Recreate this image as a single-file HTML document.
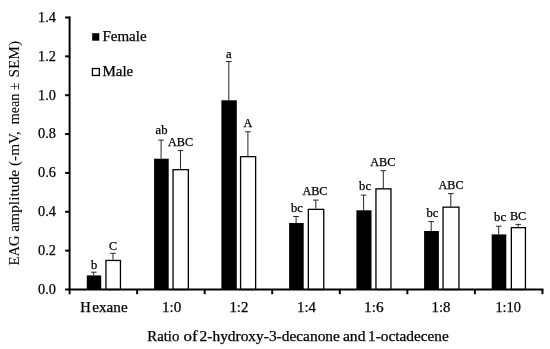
<!DOCTYPE html>
<html lang="en"><head><meta charset="utf-8"><title>EAG amplitude chart</title>
<style>html,body{margin:0;padding:0;background:#fff}body{width:550px;height:349px;overflow:hidden}text{stroke:#000;stroke-width:.25px}</style>
</head><body>
<svg width="550" height="349" viewBox="0 0 550 349" style="display:block;filter:blur(.3px)">
<rect width="550" height="349" fill="#fff"/>
<g font-family="'Liberation Serif', serif" fill="#000">
<path d="M93.7 275.4V272.2M90.9 272.2H96.5" stroke="#262626" stroke-width="1" fill="none"/>
<path d="M113.0 259.8V253.3M110.2 253.3H115.8" stroke="#262626" stroke-width="1" fill="none"/>
<rect x="86.8" y="275.4" width="14.4" height="14.1" fill="#000"/>
<rect x="105.95" y="260.45" width="14.50" height="29.05" fill="#fff" stroke="#000" stroke-width="1.3"/>
<text x="90.9" y="269.2" font-size="12.2" textLength="6.3" lengthAdjust="spacingAndGlyphs">b</text>
<text x="108.9" y="249.5" font-size="12.2" textLength="8.1" lengthAdjust="spacingAndGlyphs">C</text>
<path d="M161.1 158.7V140.1M158.3 140.1H163.9" stroke="#262626" stroke-width="1" fill="none"/>
<path d="M180.5 169.0V150.6M177.7 150.6H183.3" stroke="#262626" stroke-width="1" fill="none"/>
<rect x="154.1" y="158.7" width="14.6" height="130.8" fill="#000"/>
<rect x="173.05" y="169.65" width="15.30" height="119.85" fill="#fff" stroke="#000" stroke-width="1.3"/>
<text x="155.6" y="134.4" font-size="12.2" textLength="11.9" lengthAdjust="spacingAndGlyphs">ab</text>
<text x="168.0" y="145.8" font-size="12.2" textLength="25.1" lengthAdjust="spacingAndGlyphs">ABC</text>
<path d="M228.8 100.3V61.5M226.0 61.5H231.6" stroke="#262626" stroke-width="1" fill="none"/>
<path d="M247.9 156.0V131.8M245.1 131.8H250.7" stroke="#262626" stroke-width="1" fill="none"/>
<rect x="221.4" y="100.3" width="15.4" height="189.2" fill="#000"/>
<rect x="240.55" y="156.65" width="15.10" height="132.85" fill="#fff" stroke="#000" stroke-width="1.3"/>
<text x="226.0" y="57.5" font-size="12.2" textLength="5.6" lengthAdjust="spacingAndGlyphs">a</text>
<text x="243.6" y="126.5" font-size="12.2" textLength="8.8" lengthAdjust="spacingAndGlyphs">A</text>
<path d="M296.1 223.0V216.5M293.3 216.5H298.9" stroke="#262626" stroke-width="1" fill="none"/>
<path d="M315.8 208.7V200.1M313.0 200.1H318.6" stroke="#262626" stroke-width="1" fill="none"/>
<rect x="289.1" y="223.0" width="14.6" height="66.5" fill="#000"/>
<rect x="308.35" y="209.35" width="15.40" height="80.15" fill="#fff" stroke="#000" stroke-width="1.3"/>
<text x="291.0" y="211.6" font-size="12.2" textLength="11.9" lengthAdjust="spacingAndGlyphs">bc</text>
<text x="302.4" y="195.0" font-size="12.2" textLength="25.1" lengthAdjust="spacingAndGlyphs">ABC</text>
<path d="M363.6 210.3V195.1M360.8 195.1H366.4" stroke="#262626" stroke-width="1" fill="none"/>
<path d="M383.3 188.2V170.7M380.5 170.7H386.1" stroke="#262626" stroke-width="1" fill="none"/>
<rect x="356.4" y="210.3" width="15.1" height="79.2" fill="#000"/>
<rect x="375.95" y="188.85" width="15.00" height="100.65" fill="#fff" stroke="#000" stroke-width="1.3"/>
<text x="359.1" y="190.3" font-size="12.2" textLength="11.9" lengthAdjust="spacingAndGlyphs">bc</text>
<text x="370.2" y="166.4" font-size="12.2" textLength="25.1" lengthAdjust="spacingAndGlyphs">ABC</text>
<path d="M431.2 231.0V221.6M428.4 221.6H434.0" stroke="#262626" stroke-width="1" fill="none"/>
<path d="M450.8 206.5V193.6M448.0 193.6H453.6" stroke="#262626" stroke-width="1" fill="none"/>
<rect x="424.1" y="231.0" width="14.8" height="58.5" fill="#000"/>
<rect x="443.05" y="207.15" width="15.90" height="82.35" fill="#fff" stroke="#000" stroke-width="1.3"/>
<text x="426.5" y="217.2" font-size="12.2" textLength="11.9" lengthAdjust="spacingAndGlyphs">bc</text>
<text x="438.5" y="189.4" font-size="12.2" textLength="25.1" lengthAdjust="spacingAndGlyphs">ABC</text>
<path d="M498.7 234.4V226.2M495.9 226.2H501.5" stroke="#262626" stroke-width="1" fill="none"/>
<path d="M518.2 227.0V224.4M515.4 224.4H521.0" stroke="#262626" stroke-width="1" fill="none"/>
<rect x="491.7" y="234.4" width="14.6" height="55.1" fill="#000"/>
<rect x="511.35" y="227.65" width="14.10" height="61.85" fill="#fff" stroke="#000" stroke-width="1.3"/>
<text x="494.1" y="220.6" font-size="12.2" textLength="11.9" lengthAdjust="spacingAndGlyphs">bc</text>
<text x="509.9" y="220.3" font-size="12.2" textLength="16.3" lengthAdjust="spacingAndGlyphs">BC</text>
<path d="M69.6 16.5V294.2" stroke="#000" stroke-width="2" fill="none"/>
<path d="M65.1 289.5H543.4" stroke="#000" stroke-width="2" fill="none"/>
<text x="38.1" y="293.90" font-size="14.2" textLength="17.9" lengthAdjust="spacingAndGlyphs">0.0</text>
<path d="M65.1 250.64H69.6" stroke="#000" stroke-width="2"/>
<text x="38.1" y="255.04" font-size="14.2" textLength="17.9" lengthAdjust="spacingAndGlyphs">0.2</text>
<path d="M65.1 211.78H69.6" stroke="#000" stroke-width="2"/>
<text x="38.1" y="216.18" font-size="14.2" textLength="17.9" lengthAdjust="spacingAndGlyphs">0.4</text>
<path d="M65.1 172.92H69.6" stroke="#000" stroke-width="2"/>
<text x="38.1" y="177.32" font-size="14.2" textLength="17.9" lengthAdjust="spacingAndGlyphs">0.6</text>
<path d="M65.1 134.06H69.6" stroke="#000" stroke-width="2"/>
<text x="38.1" y="138.46" font-size="14.2" textLength="17.9" lengthAdjust="spacingAndGlyphs">0.8</text>
<path d="M65.1 95.20H69.6" stroke="#000" stroke-width="2"/>
<text x="38.1" y="99.60" font-size="14.2" textLength="17.9" lengthAdjust="spacingAndGlyphs">1.0</text>
<path d="M65.1 56.34H69.6" stroke="#000" stroke-width="2"/>
<text x="38.1" y="60.74" font-size="14.2" textLength="17.9" lengthAdjust="spacingAndGlyphs">1.2</text>
<path d="M65.1 17.48H69.6" stroke="#000" stroke-width="2"/>
<text x="38.1" y="21.88" font-size="14.2" textLength="17.9" lengthAdjust="spacingAndGlyphs">1.4</text>
<path d="M137.15 289.5V294.2" stroke="#000" stroke-width="2"/>
<path d="M204.70 289.5V294.2" stroke="#000" stroke-width="2"/>
<path d="M272.25 289.5V294.2" stroke="#000" stroke-width="2"/>
<path d="M339.80 289.5V294.2" stroke="#000" stroke-width="2"/>
<path d="M407.35 289.5V294.2" stroke="#000" stroke-width="2"/>
<path d="M474.90 289.5V294.2" stroke="#000" stroke-width="2"/>
<path d="M542.45 289.5V294.2" stroke="#000" stroke-width="2"/>
<text y="312.0" font-size="14.2"><tspan x="80.2" textLength="10.5" lengthAdjust="spacingAndGlyphs">H</tspan><tspan x="92.3" textLength="35.4" lengthAdjust="spacingAndGlyphs">exane</tspan></text>
<text y="312.0" font-size="14.2"><tspan x="161.9" textLength="19.4" lengthAdjust="spacingAndGlyphs">1:0</tspan></text>
<text y="312.0" font-size="14.2"><tspan x="229.4" textLength="18.9" lengthAdjust="spacingAndGlyphs">1:2</tspan></text>
<text y="312.0" font-size="14.2"><tspan x="297.0" textLength="18.9" lengthAdjust="spacingAndGlyphs">1:4</tspan></text>
<text y="312.0" font-size="14.2"><tspan x="364.1" textLength="19.6" lengthAdjust="spacingAndGlyphs">1:6</tspan></text>
<text y="312.0" font-size="14.2"><tspan x="431.5" textLength="19.0" lengthAdjust="spacingAndGlyphs">1:8</tspan></text>
<text y="312.0" font-size="14.2"><tspan x="495.4" textLength="25.6" lengthAdjust="spacingAndGlyphs">1:10</tspan></text>
<text y="340.8" font-size="14.2"><tspan x="147.3" textLength="32.0" lengthAdjust="spacingAndGlyphs">Ratio</tspan> <tspan x="183.5" textLength="14.1" lengthAdjust="spacingAndGlyphs">of</tspan> <tspan x="199.6" textLength="140.3" lengthAdjust="spacingAndGlyphs">2-hydroxy-3-decanone</tspan> <tspan x="342.9" textLength="22.6" lengthAdjust="spacingAndGlyphs">and</tspan> <tspan x="368.0" textLength="80.8" lengthAdjust="spacingAndGlyphs">1-octadecene</tspan></text>
<text transform="translate(18.9 0) rotate(-90)" y="0" style="stroke-width:.08px" font-size="14.2"><tspan x="-265.5" textLength="30.1" lengthAdjust="spacingAndGlyphs">EAG</tspan> <tspan x="-231.8" textLength="61.9" lengthAdjust="spacingAndGlyphs">amplitude</tspan> <tspan x="-166.0" textLength="34.8" lengthAdjust="spacingAndGlyphs">(-mV,</tspan> <tspan x="-124.3" textLength="30.7" lengthAdjust="spacingAndGlyphs">mean</tspan> <tspan x="-90.1" textLength="7.1" lengthAdjust="spacingAndGlyphs">±</tspan> <tspan x="-77.5" textLength="36.5" lengthAdjust="spacingAndGlyphs">SEM)</tspan></text>
<rect x="92.2" y="33.2" width="7.1" height="7.5" fill="#000"/>
<rect x="92.45" y="68.55" width="6.9" height="6.9" fill="#fff" stroke="#000" stroke-width="1.3"/>
<text x="102.4" y="41.2" font-size="15">Female</text>
<text x="102.4" y="75.9" font-size="15">Male</text>
</g></svg>
</body></html>
